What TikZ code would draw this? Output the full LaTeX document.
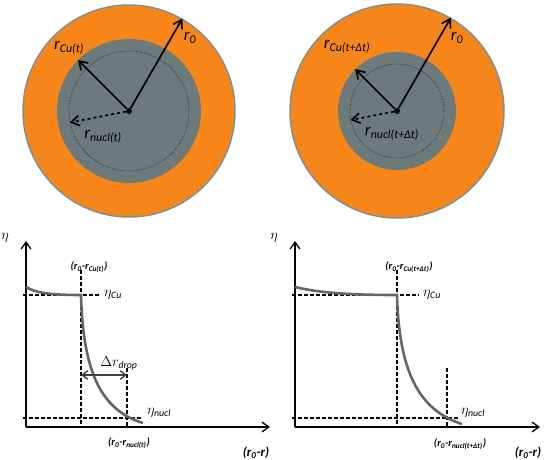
\documentclass[tikz,border=0pt]{standalone}
\usepackage{amsmath}
\usepackage{fontspec}
\setmainfont{Carlito}
\usetikzlibrary{arrows.meta,positioning,calc}
\definecolor{CuOrange}{HTML}{F7861A}
\definecolor{NuclGray}{HTML}{6D7A7A}
\definecolor{RimGray}{HTML}{838E8E}
\definecolor{CurveGray}{HTML}{5E6868}

\begin{document}
\begin{tikzpicture}[x=1pt,y=-1pt,
  shell/.style={circle,draw=RimGray,line width=1.5pt,fill=CuOrange,minimum size=#1,inner sep=0pt},
  core/.style={circle,fill=NuclGray,minimum size=#1,inner sep=0pt},
  front/.style={circle,draw=black!85,densely dotted,line width=0.6pt,minimum size=#1,inner sep=0pt},
  centre/.style={circle,fill=black,minimum size=6pt,inner sep=0pt},
  rad/.style={-{Straight Barb[length=2.8mm,width=3.6mm]},line width=1.7pt},
  radlbl/.style={font=\fontsize{17}{19}\selectfont\itshape,inner sep=0pt},
  axis/.style={-{Straight Barb[length=2.4mm,width=3.4mm]},line width=1.3pt},
  guide/.style={dash pattern=on 3.5pt off 2.5pt,line width=1.1pt},
  curve/.style={CurveGray,line width=2.6pt},
  span/.style={{Straight Barb[length=2mm,width=3mm]}-{Straight Barb[length=2mm,width=3mm]},line width=1.4pt,draw=black!75},
  plotlbl/.style={font=\fontsize{10.5}{12}\selectfont\bfseries\itshape,inner sep=0pt},
  axlbl/.style={font=\fontsize{13}{15}\selectfont\bfseries\itshape,inner sep=0pt},
  etalbl/.style={font=\fontsize{14}{16}\selectfont,inner sep=0pt}
]
\useasboundingbox (0,0) rectangle (544,460);

% particle at time t
\node[shell=212pt] (shellA) at (129,111) {};
\node[core=144pt] (coreA) at (129,111) {};
\node[front=120pt] (frontA) at (129,111) {};
\node[centre] (cA) at (129,111) {};
\draw[rad] (cA) -- (shellA.60);
\draw[rad] (cA) -- (coreA.135);
\draw[rad,dashed] (cA) -- (frontA.191);
\node[radlbl] (r0A) at (190,38) {r\textsubscript{0}};
\node[radlbl] (rCuA) at (69,48) {r\textsubscript{Cu(t)}};
\node[radlbl] (rnuA) at (103,137) {r\textsubscript{nucl(t)}};

% particle at time t+dt
\node[shell=214pt] (shellB) at (397,111) {};
\node[core=118pt] (coreB) at (397,111) {};
\node[front=94pt] (frontB) at (397,111) {};
\node[centre] (cB) at (397,111) {};
\draw[rad] (cB) -- (shellB.60);
\draw[rad] (cB) -- (coreB.135);
\draw[rad,dashed] (cB) -- (frontB.191);
\node[radlbl] (r0B) at (457,38) {r\textsubscript{0}};
\node[radlbl] (rCuB) at (347,47) {r\textsubscript{Cu(t+Δt)}};
\node[radlbl] (rnuB) at (392,134) {r\textsubscript{nucl(t+Δt)}};

% overpotential profile at t
\coordinate (oA) at (26,427);
\coordinate (yA) at (26,241);
\coordinate (xA) at (270,427);
\coordinate (kneeA) at (81,295);
\coordinate (nuA) at (127,418);
\coordinate (dropA) at (81,375);
\draw[axis] (oA) -- (yA);
\draw[axis] (oA) -- (xA);
\node[etalbl] (etaA) at (5,238) {$\eta$};
\node[etalbl,anchor=west] (etaCuA) at (104,295) {$\eta_{\textit{Cu}}$};
\node[etalbl,anchor=west] (etaNuA) at (147,413) {$\eta_{\textit{nucl}}$};
\node[plotlbl] (tA) at (89,267) {(r\textsubscript{0}-r\textsubscript{Cu(t)})};
\node[plotlbl] (bA) at (129,443) {(r\textsubscript{0}-r\textsubscript{nucl(t)})};
\node[axlbl] (xlA) at (256,453) {(r\textsubscript{0}-r)};
\draw[guide] ([xshift=-3pt]oA |- kneeA) -- ([xshift=-4pt]etaCuA.west |- kneeA);
\draw[guide] ([yshift=2pt]tA.south -| kneeA) -- (kneeA |- oA);
\draw[guide] ([xshift=-3pt]oA |- nuA) -- (142,418);
\draw[guide] (127,368) -- (nuA |- oA);
\draw[curve] (26,287) .. controls (36,293) and (50,295) .. (kneeA)
  .. controls (83,370) and (100,410) .. (143,423);
\draw[span] (dropA) -- (dropA -| nuA);
\node[etalbl] (dropLbl) at (119,363) {$\Delta r_{\textit{drop}}$};

% overpotential profile at t+dt
\coordinate (oB) at (295,427);
\coordinate (yB) at (295,241);
\coordinate (xB) at (540,427);
\coordinate (kneeB) at (397,295);
\coordinate (nuB) at (447,418);
\draw[axis] (oB) -- (yB);
\draw[axis] (oB) -- (xB);
\node[etalbl] (etaB) at (274,238) {$\eta$};
\node[etalbl,anchor=west] (etaCuB) at (423,295) {$\eta_{\textit{Cu}}$};
\node[etalbl,anchor=west] (etaNuB) at (461,413) {$\eta_{\textit{nucl}}$};
\node[plotlbl] (tB) at (409,267) {(r\textsubscript{0}-r\textsubscript{Cu(t+Δt)})};
\node[plotlbl] (bB) at (460,444) {(r\textsubscript{0}-r\textsubscript{nucl(t+Δt)})};
\node[axlbl] (xlB) at (528,453) {(r\textsubscript{0}-r)};
\draw[guide] ([xshift=-3pt]oB |- kneeB) -- ([xshift=-4pt]etaCuB.west |- kneeB);
\draw[guide] ([yshift=2pt]tB.south -| kneeB) -- (kneeB |- oB);
\draw[guide] ([xshift=-3pt]oB |- nuB) -- (459,418);
\draw[guide] (447,368) -- (nuB |- oB);
\draw[curve] (295,287) .. controls (320,293) and (350,295) .. (kneeB)
  .. controls (399,370) and (418,410) .. (462,424);
\end{tikzpicture}
\end{document}
